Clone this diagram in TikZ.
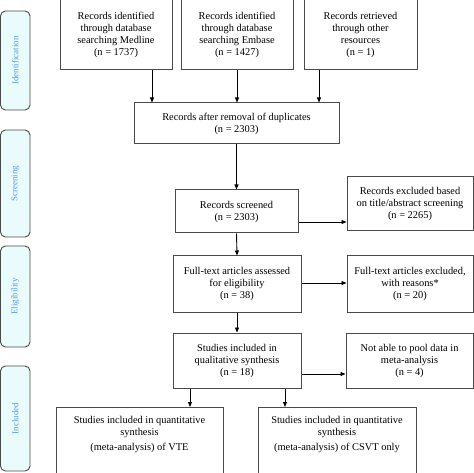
\documentclass[tikz,border=0pt]{standalone}
\usepackage{fontspec}
\setmainfont{Liberation Serif}
\usetikzlibrary{arrows.meta,positioning,calc}
\definecolor{boxline}{HTML}{4A4A4A}
\definecolor{phasefill}{HTML}{EAFBFB}
\definecolor{phasetext}{HTML}{5A9BDA}
\begin{document}
\begin{tikzpicture}[x=1pt,y=-1pt,
  flowbox/.style={draw=boxline,line width=1pt,fill=white,inner sep=0pt,align=center,
    font=\fontsize{10.4}{12}\selectfont},
  flowtext/.style={inner sep=0pt,align=center,font=\fontsize{10.4}{12}\selectfont},
  phasebox/.style={draw=boxline,line width=0.9pt,fill=phasefill,rounded corners=5pt,
    inner sep=0pt,minimum width=29.5pt,text=phasetext,
    font=\fontsize{9}{10}\selectfont},
  arr/.style={-{Triangle[length=5pt,width=4pt]},line width=0.9pt,black}]
\useasboundingbox (0,0) rectangle (474,473);
\clip (0,0) rectangle (474,473);
% phase labels
\node[phasebox,minimum height=99pt] (pid) at (15.25,60.5) {\rotatebox{90}{Identification}};
\node[phasebox,minimum height=107pt] (psc) at (15.25,183.5) {\rotatebox{90}{Screening}};
\node[phasebox,minimum height=101pt] (pel) at (15.25,296.5) {\rotatebox{90}{Eligibility}};
\node[phasebox,minimum height=105pt] (pin) at (15.25,418.5) {\rotatebox{90}{Included}};
% identification boxes
\node[flowbox,minimum width=112pt,minimum height=80pt] (med) at (116,30) {};
\node[flowtext] at (116,35) {Records identified\\through database\\searching Medline\\(n = 1737)};
\node[flowbox,minimum width=112pt,minimum height=80pt] (emb) at (237,30) {};
\node[flowtext] at (237,35) {Records identified\\through database\\searching Embase\\(n = 1427)};
\node[flowbox,minimum width=113pt,minimum height=80pt] (oth) at (360.5,30) {};
\node[flowtext] at (360.5,35) {Records retrieved\\through other\\resources\\(n = 1)};
\node[flowbox,minimum width=205pt,minimum height=41pt] (dup) at (236.5,123.5)
  {Records after removal of duplicates\\(n = 2303)};
\node[flowbox,minimum width=123pt,minimum height=43pt] (scr) at (236.5,211.5)
  {Records screened\\(n = 2303)};
\node[flowbox,minimum width=126pt,minimum height=54pt] (ex1) at (410,204)
  {Records excluded based\\on title/abstract screening\\(n = 2265)};
\node[flowbox,minimum width=128pt,minimum height=56pt] (ft) at (237,284)
  {Full-text articles assessed\\for eligibility\\(n = 38)};
\node[flowbox,minimum width=126pt,minimum height=56pt] (ex2) at (410,284)
  {Full-text articles excluded,\\with reasons*\\(n = 20)};
\node[flowbox,minimum width=128pt,minimum height=55pt] (qual) at (237,360.5)
  {Studies included in\\qualitative synthesis\\(n = 18)};
\node[flowbox,minimum width=127pt,minimum height=55pt] (na) at (409.5,360.5)
  {Not able to pool data in\\meta-analysis\\(n = 4)};
\node[flowbox,minimum width=167pt,minimum height=80pt,anchor=north] (vte) at (139.5,407) {};
\node[flowtext,anchor=north] at ($(vte.north)+(0,9)$)
  {Studies included in quantitative\\synthesis\\[3.5pt](meta-analysis) of VTE};
\node[flowbox,minimum width=158pt,minimum height=80pt,anchor=north] (csvt) at (337,407) {};
\node[flowtext,anchor=north] at ($(csvt.north)+(0,9)$)
  {Studies included in quantitative\\synthesis\\[3.5pt](meta-analysis) of CSVT only};
% connectors
\draw[arr] ([xshift=36pt]med.south) -- ([xshift=36pt]med.south |- dup.north);
\draw[arr] (emb.south) -- (emb.south |- dup.north);
\draw[arr] ([xshift=-41.5pt]oth.south) -- ([xshift=-41.5pt]oth.south |- dup.north);
\draw[arr] (dup.south) -- (scr.north);
\draw[arr] ([yshift=-10.5pt]scr.east) -- ([yshift=-10.5pt]scr.east -| ex1.west);
\draw[arr] (scr.south) -- (ft.north);
\draw[arr] ([yshift=1pt]ft.east) -- ([yshift=1pt]ft.east -| ex2.west);
\draw[arr] (ft.south) -- (qual.north);
\draw[arr] ([yshift=-13.5pt]qual.east) -- ([yshift=-13.5pt]qual.east -| na.west);
\draw[arr] ([xshift=-47pt]qual.south) -- ([xshift=-47pt]qual.south |- vte.north);
\draw[arr] ([xshift=48pt]qual.south) -- ([xshift=48pt]qual.south |- csvt.north);
\end{tikzpicture}
\end{document}
